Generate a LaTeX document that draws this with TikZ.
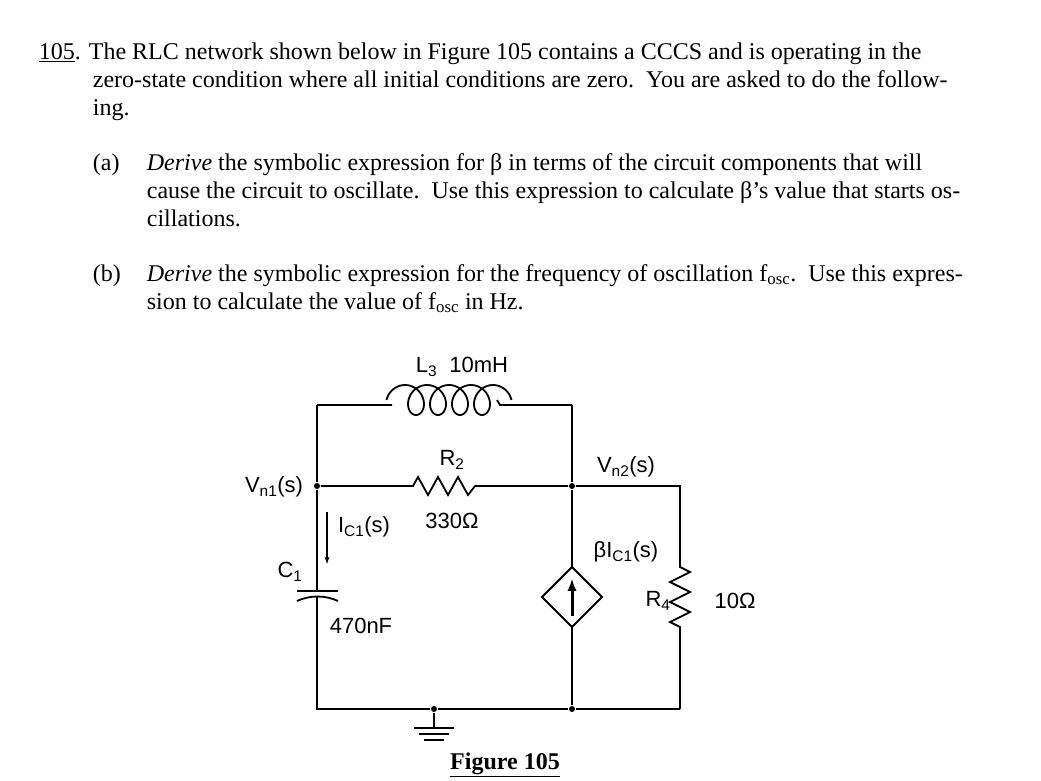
\documentclass[tikz,border=0pt]{standalone}
\usepackage{fontspec}
\setmainfont{Liberation Serif}
\newfontfamily\arialf{Liberation Sans}
\begin{document}
\begin{tikzpicture}[x=1pt,y=-1pt,line width=1.8pt,
  txt/.style={anchor=base west,inner sep=0pt,font=\fontsize{24}{28}\selectfont},
  lab/.style={inner sep=0pt,font=\arialf\fontsize{22}{26}\selectfont},
  dot/.style={circle,fill,inner sep=0pt,minimum size=6pt}]
\clip (0,0) rectangle (1041,781);
\useasboundingbox (0,0) rectangle (1041,781);
\fill[white] (0,0) rectangle (1041,781);
% text
\node[txt] (t0) at (38,60) {\underline{105}. The RLC network shown below in Figure 105 contains a CCCS and is operating in the};
\node[txt] (t1) at (92,88) {zero-state condition where all initial conditions are zero.\ \ You are asked to do the follow-};
\node[txt] (t2) at (92,116) {ing.};
\node[txt] (a0) at (92,170) {(a)};
\node[txt] (a1) at (146,170) {\emph{Derive} the symbolic expression for β in terms of the circuit components that will};
\node[txt] (a2) at (146,198) {cause the circuit to oscillate.\ \ Use this expression to calculate β’s value that starts os-};
\node[txt] (a3) at (146,226) {cillations.};
\node[txt] (b0) at (92,281) {(b)};
\node[txt] (b1) at (146,281) {\emph{Derive} the symbolic expression for the frequency of oscillation f\textsubscript{osc}.\ \ Use this expres-};
\node[txt] (b2) at (146,309) {sion to calculate the value of f\textsubscript{osc} in Hz.};
% nodes
\coordinate (tl) at (317,405); \coordinate (tr) at (572,405);
\node[dot] (n1) at (317,486) {}; \node[dot] (n2) at (572,486) {};
\coordinate (r4t) at (680,486); \coordinate (r4b) at (680,709);
\coordinate (bl) at (317,709); \node[dot] (gnd) at (434,709) {}; \node[dot] (br) at (572,709) {};
% inductor
\draw (tl) -- (392,405)
  plot[domain=-90:1530,samples=240,smooth] ({405+\x/360*22+13*sin(\x)},{400-15*cos(\x)});
\draw (497,400) -- (500,405) -- (tr);
\node[lab] (L3) at (462,367) {L\textsubscript{3}\ \ 10mH};
% R2
\draw (n1) -- (413,486) -- (418,477) -- (428,495) -- (438,477) -- (448,495) -- (458,477) -- (468,495) -- (475,486) -- (n2);
\node[lab] (R2) at (452,460) {R\textsubscript{2}};
\node[lab] (R2v) at (452,521) {330Ω};
% left branch with C1
\draw (tl) -- (n1) -- (317,591);
\draw (297,591) -- (338,591);
\draw (297,601) .. controls (310,595) and (325,595) .. (338,601);
\draw (317,597) -- (bl) -- (gnd) -- (br) -- (r4b);
\node[lab] (C1) at (290,572) {C\textsubscript{1}};
\node[lab] (C1v) at (361,626) {470nF};
\draw[line width=1.3pt,-{latex}] (327,512) -- (327,564);
\node[lab] (ic) at (364,527) {I\textsubscript{C1}(s)};
\node[lab] (vn1) at (274,487) {V\textsubscript{n1}(s)};
\node[lab] (vn2) at (626,467) {V\textsubscript{n2}(s)};
% right branch
\draw (tr) -- (n2) -- (572,567);
\draw (572,567) -- (602,597) -- (572,627) -- (542,597) -- cycle;
\draw[line width=3pt,-{latex}] (572,616) -- (572,579);
\draw (572,627) -- (br);
\node[lab] (bi) at (626,552) {βI\textsubscript{C1}(s)};
\draw (n2) -- (r4t) -- (680,567) -- (690,572) -- (670,582) -- (690,592) -- (670,602) -- (690,612) -- (670,622) -- (680,627) -- (r4b);
\node[lab] (R4) at (658,601) {R\textsubscript{4}};
\node[lab] (R4v) at (735,601) {10Ω};
% ground
\draw (gnd) -- (434,728);
\draw (414,728) -- (454,728); \draw (419,734) -- (449,734); \draw (424,740) -- (444,740);
\node[txt,anchor=base] (fig) at (505,769) {\textbf{\underline{Figure 105}}};
\end{tikzpicture}
\end{document}
